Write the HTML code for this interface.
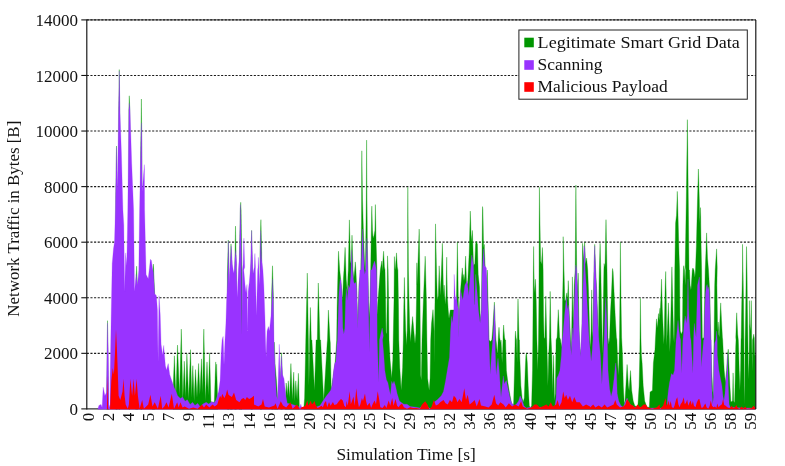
<!DOCTYPE html>
<html lang="en"><head><meta charset="utf-8"><title>Network Traffic</title>
<style>
html,body{margin:0;padding:0;background:#fff;}
body{width:785px;height:466px;overflow:hidden;}
svg{display:block;}
text{font-family:"Liberation Serif","DejaVu Serif",serif;fill:#111;}
</style></head><body>
<svg width="785" height="466" viewBox="0 0 785 466">
<rect width="785" height="466" fill="#fff"/>

<g stroke="#1a1a1a" stroke-width="1.15" stroke-dasharray="2.1 1.53" fill="none">
<line x1="86.8" y1="353.33" x2="755.8" y2="353.33"/>
<line x1="86.8" y1="297.76" x2="755.8" y2="297.76"/>
<line x1="86.8" y1="242.19" x2="755.8" y2="242.19"/>
<line x1="86.8" y1="186.61" x2="755.8" y2="186.61"/>
<line x1="86.8" y1="131.04" x2="755.8" y2="131.04"/>
<line x1="86.8" y1="75.47" x2="755.8" y2="75.47"/>
<line x1="86.8" y1="19.90" x2="755.8" y2="19.90"/>
</g>
<line x1="81.3" y1="408.8" x2="755.8" y2="408.8" stroke-width="1.3" stroke="#333"/>
<g shape-rendering="auto">
<polygon fill="#009600" stroke="#009600" stroke-width="0.35" stroke-linejoin="round" points="173.0,409.2 173.0,393.3 174.4,355.8 175.9,397.8 177.5,345.1 179.5,395.6 181.3,329.1 182.8,400.9 184.3,361.2 185.6,397.8 186.9,353.5 188.6,399.4 190.5,349.7 191.7,397.8 192.8,365.7 194.1,400.9 195.5,369.6 197.0,397.8 198.6,363.5 199.9,394.8 201.5,358.9 202.7,393.3 203.8,329.1 205.4,400.9 207.0,361.9 208.3,395.6 209.6,352.8 210.9,401.7 214.3,402.4 215.7,361.9 216.1,378.0 216.6,364.2 217.7,402.4 217.7,409.2"/>
<polygon fill="#009600" stroke="#009600" stroke-width="0.35" stroke-linejoin="round" points="106.8,409.2 106.8,395.8 107.5,320.7 108.3,395.8 108.3,409.2"/>
<polygon fill="#009600" stroke="#009600" stroke-width="0.35" stroke-linejoin="round" points="115.8,409.2 115.8,195.8 116.5,146.0 117.3,195.8 117.3,409.2"/>
<polygon fill="#009600" stroke="#009600" stroke-width="0.35" stroke-linejoin="round" points="118.8,409.2 118.8,110.0 119.3,69.6 119.7,110.0 119.7,409.2"/>
<polygon fill="#009600" stroke="#009600" stroke-width="0.35" stroke-linejoin="round" points="128.9,409.2 128.9,110.0 129.3,95.8 129.8,110.0 129.8,409.2"/>
<polygon fill="#009600" stroke="#009600" stroke-width="0.35" stroke-linejoin="round" points="140.7,409.2 140.7,152.9 141.4,99.0 142.0,174.4 142.0,409.2"/>
<polygon fill="#009600" stroke="#009600" stroke-width="0.35" stroke-linejoin="round" points="135.6,409.2 135.6,295.8 136.6,266.2 137.9,300.1 137.9,409.2"/>
<polygon fill="#009600" stroke="#009600" stroke-width="0.35" stroke-linejoin="round" points="152.3,409.2 152.3,274.4 153.4,264.1 154.7,295.8 154.7,409.2"/>
<polygon fill="#009600" stroke="#009600" stroke-width="0.35" stroke-linejoin="round" points="230.2,409.2 230.2,274.4 231.0,243.9 232.3,274.4 232.3,409.2"/>
<polygon fill="#009600" stroke="#009600" stroke-width="0.35" stroke-linejoin="round" points="234.7,409.2 234.7,274.4 235.5,226.1 236.4,274.4 236.4,409.2"/>
<polygon fill="#009600" stroke="#009600" stroke-width="0.35" stroke-linejoin="round" points="250.8,409.2 250.8,274.4 251.6,230.4 252.5,274.4 252.5,409.2"/>
<polygon fill="#009600" stroke="#009600" stroke-width="0.35" stroke-linejoin="round" points="239.2,409.2 239.2,278.7 240.3,210.0 240.7,202.3 241.1,210.0 242.0,278.7 242.0,409.2"/>
<polygon fill="#009600" stroke="#009600" stroke-width="0.35" stroke-linejoin="round" points="227.4,409.2 227.4,274.4 228.3,240.0 229.1,274.4 229.1,409.2"/>
<polygon fill="#009600" stroke="#009600" stroke-width="0.35" stroke-linejoin="round" points="260.0,409.2 260.0,252.9 260.9,219.7 261.7,252.9 261.7,409.2"/>
<polygon fill="#009600" stroke="#009600" stroke-width="0.35" stroke-linejoin="round" points="271.6,409.2 271.6,295.8 272.5,265.8 273.3,295.8 273.3,409.2"/>
<polygon fill="#009600" stroke="#009600" stroke-width="0.35" stroke-linejoin="round" points="274.4,409.2 274.4,342.2 275.0,363.6 276.3,378.7 277.6,398.0 278.0,404.4 278.0,409.2"/>
<polygon fill="#009600" stroke="#009600" stroke-width="0.35" stroke-linejoin="round" points="280.6,409.2 280.6,374.4 281.5,352.9 282.3,374.4 282.3,409.2"/>
<polygon fill="#009600" stroke="#009600" stroke-width="0.35" stroke-linejoin="round" points="285.3,409.2 285.3,402.3 286.2,383.0 287.3,395.8 288.3,380.8 289.6,398.0 290.9,363.6 292.3,400.1 293.7,372.2 294.8,401.2 295.8,380.8 297.1,400.1 298.4,373.3 299.3,404.4 299.3,409.2"/>
<polygon fill="#009600" stroke="#009600" stroke-width="0.35" stroke-linejoin="round" points="303.8,409.2 303.8,409.2 304.6,398.1 305.5,355.3 305.8,340.0 307.3,273.1 308.4,340.0 308.9,385.9 309.5,355.3 309.6,340.0 310.4,307.5 311.3,340.0 311.9,340.0 314.5,390.4 316.1,340.0 317.3,340.0 318.3,283.0 319.9,340.0 320.6,340.0 323.7,401.1 327.2,343.1 327.5,340.0 328.4,310.1 330.0,340.0 330.3,343.1 331.2,390.4 335.2,361.4 336.1,349.2 336.7,340.0 337.1,308.2 337.9,274.6 338.5,251.2 339.7,270.0 340.7,279.2 341.3,285.3 342.5,300.6 343.4,279.2 344.0,270.0 345.1,247.4 345.9,270.0 346.2,279.2 347.4,292.9 348.0,274.6 348.3,270.0 349.4,219.9 350.4,261.1 351.2,264.2 352.0,235.2 353.0,270.0 353.8,279.2 354.7,270.0 355.3,261.9 355.9,270.0 356.6,285.3 357.8,328.1 359.0,285.3 360.8,270.0 361.5,222.9 361.8,150.8 362.5,200.0 363.4,230.6 364.5,261.1 365.1,270.0 365.4,270.0 365.9,230.6 366.3,200.0 366.6,140.1 367.0,200.0 367.4,245.9 367.9,270.0 368.5,300.0 369.3,318.0 370.1,300.0 370.7,270.0 371.2,238.2 371.8,206.1 372.5,230.6 373.1,238.2 374.1,235.2 374.9,230.6 375.4,204.6 376.0,238.2 376.9,270.0 377.0,315.1 377.7,304.6 380.3,270.0 381.8,261.0 382.3,271.5 382.9,261.0 383.6,251.2 384.4,267.0 385.0,270.0 385.6,300.1 386.0,333.2 386.6,333.2 387.2,300.1 387.5,255.9 388.1,270.0 388.6,300.1 389.0,340.1 390.1,360.2 391.7,378.3 392.8,360.2 393.2,340.1 394.0,300.1 394.4,256.6 395.0,270.0 395.5,267.0 396.5,252.9 397.3,267.0 397.9,270.0 398.5,307.6 398.8,340.1 399.8,367.7 401.2,390.3 402.6,367.7 403.3,340.1 403.8,307.6 404.4,277.5 405.0,307.6 405.7,330.2 406.6,345.2 407.2,330.2 407.5,300.1 407.8,187.3 408.4,270.0 409.0,300.1 409.6,322.6 410.5,342.2 411.4,330.2 412.6,316.6 413.8,330.2 415.0,343.7 415.9,333.2 416.5,300.1 416.8,262.8 417.3,285.0 417.7,270.0 419.2,229.1 420.0,285.0 420.0,300.0 420.6,375.0 421.3,380.0 422.0,340.0 423.4,300.6 425.2,256.2 426.4,300.6 426.9,340.0 427.6,378.2 429.2,390.4 430.1,378.2 430.7,340.0 431.5,323.5 433.0,309.7 434.1,331.1 434.2,364.5 434.5,331.1 435.0,300.6 435.5,223.9 436.6,274.4 437.4,300.1 438.3,295.8 439.2,265.8 440.2,295.8 441.3,274.4 442.4,243.3 443.5,295.8 444.1,285.1 445.2,304.4 446.0,295.8 446.7,257.2 447.3,295.8 448.2,310.0 449.0,318.6 450.3,310.0 453.1,310.0 456.3,310.0 457.4,242.2 458.5,310.0 458.7,337.9 459.5,310.0 460.6,289.4 462.3,267.9 463.2,280.8 463.8,274.4 464.7,280.8 465.6,256.1 466.6,285.1 467.7,283.0 469.2,252.9 470.3,211.1 471.3,242.2 472.4,230.4 473.5,265.8 474.8,263.6 475.6,244.3 476.3,241.1 477.4,244.3 478.2,274.4 479.5,287.2 480.1,320.7 481.4,310.0 482.5,210.0 482.5,206.6 482.9,210.0 483.6,248.6 484.2,244.3 485.3,270.1 486.0,285.3 487.3,270.0 488.0,300.6 489.1,340.0 490.3,341.5 491.8,340.0 492.6,331.1 494.4,302.1 495.4,331.1 496.0,340.0 496.4,343.1 497.5,355.3 498.0,343.1 498.3,337.3 499.0,327.3 499.6,337.3 500.1,340.0 500.6,343.1 501.0,340.0 501.5,349.2 502.1,362.9 502.7,349.2 503.0,340.0 503.0,337.3 503.6,325.0 504.5,337.3 505.1,340.0 505.6,340.0 506.4,370.6 507.9,382.8 509.4,392.0 511.7,404.2 512.6,405.0 513.6,404.2 514.5,370.6 515.1,340.0 515.2,337.3 515.5,331.1 516.0,337.3 516.5,340.0 517.1,362.9 517.4,340.0 517.7,315.9 518.0,299.0 518.4,315.9 519.1,340.0 519.4,340.0 519.7,355.3 520.9,385.9 522.1,398.1 523.2,401.9 524.3,398.1 525.2,370.6 525.9,355.3 526.5,353.0 527.3,362.9 528.2,385.9 529.3,405.7 530.4,408.0 531.6,405.7 532.5,370.6 532.8,340.0 533.1,300.6 533.6,246.5 534.2,285.3 534.6,292.9 535.4,279.2 536.2,300.6 536.9,340.0 537.7,370.6 538.5,340.0 538.9,300.6 539.4,187.3 539.4,187.3 540.6,261.1 541.5,264.2 542.4,247.5 543.1,270.0 543.5,315.9 544.1,338.8 544.9,337.3 545.8,296.0 546.7,337.3 547.2,355.3 547.9,385.9 548.7,355.3 549.5,337.3 550.2,291.4 551.0,337.3 551.8,355.3 552.5,393.5 553.0,370.6 553.5,355.3 553.9,370.6 554.5,401.1 555.3,393.5 556.1,340.0 557.1,337.3 558.3,309.7 559.6,337.3 560.6,340.0 561.4,347.6 562.2,340.0 562.6,300.6 563.2,270.0 563.2,236.7 564.0,270.0 564.8,300.6 565.7,300.6 566.8,292.9 567.5,300.6 568.3,280.7 569.0,308.2 569.8,323.5 570.6,340.0 571.3,349.2 571.6,340.0 571.9,315.9 572.4,276.9 572.9,315.9 573.3,323.5 574.2,285.3 575.2,270.0 575.9,185.0 576.7,270.0 577.6,292.9 578.2,273.1 578.8,315.9 579.4,340.0 580.5,355.3 581.6,340.0 582.2,315.9 582.5,243.3 583.6,261.1 584.6,242.2 585.6,264.2 586.6,258.1 587.7,270.0 588.6,292.9 589.2,315.9 589.8,340.0 590.4,347.6 591.1,331.1 591.7,289.9 592.4,331.1 592.9,337.3 593.5,292.9 594.0,270.0 594.7,244.3 595.6,270.0 596.6,288.3 597.8,320.4 598.5,337.3 599.0,285.3 599.3,270.0 600.1,243.3 600.8,270.0 601.5,308.2 602.1,334.2 602.4,355.3 603.0,334.2 603.4,300.6 603.9,270.0 604.1,263.6 605.0,267.3 606.0,219.7 607.0,270.0 607.4,300.6 608.0,337.3 608.8,344.6 609.6,337.3 610.3,315.9 611.5,292.9 612.5,268.5 613.1,271.5 614.1,292.9 615.2,315.9 616.4,337.3 616.9,340.0 617.7,362.9 618.3,375.2 618.9,362.9 619.5,337.3 619.9,300.6 620.4,242.2 621.0,300.6 621.6,337.3 622.5,355.3 623.3,385.9 624.1,401.1 624.8,404.2 625.9,385.9 627.1,364.5 628.4,385.9 629.1,390.4 630.5,370.6 631.7,390.4 633.2,401.1 634.8,405.7 637.8,407.3 639.1,385.9 639.8,355.3 640.0,337.3 640.4,298.3 640.9,337.3 641.4,355.3 642.1,362.9 643.2,385.9 644.7,401.1 647.0,407.3 649.3,407.3 650.1,392.0 652.4,390.4 653.4,362.9 654.3,355.3 655.0,349.2 655.4,340.0 655.9,331.1 656.5,318.9 657.4,328.1 658.5,313.6 659.2,320.4 660.0,308.2 660.0,315.9 660.8,300.6 661.5,279.2 662.3,308.2 663.4,334.2 663.8,344.6 664.3,334.2 665.0,292.9 665.7,271.5 666.3,300.6 666.6,346.1 667.0,337.3 667.6,323.5 668.4,302.9 669.2,328.1 669.8,352.2 670.4,337.3 671.2,300.6 671.9,266.9 672.7,300.6 673.5,334.2 674.1,343.1 674.5,315.9 674.8,270.0 675.6,222.9 676.5,215.3 677.3,191.4 678.0,215.3 679.0,253.5 679.6,270.0 679.9,315.9 680.3,331.1 681.4,334.2 682.5,331.1 682.9,285.3 683.4,270.0 683.7,265.7 684.5,270.0 685.2,285.3 685.7,270.0 685.2,267.3 686.3,200.0 687.4,119.7 688.3,200.0 689.0,270.0 689.5,270.0 690.1,285.3 691.0,289.9 691.8,277.6 692.3,270.0 692.9,268.0 693.9,270.0 694.9,277.6 695.5,270.0 696.4,245.9 697.5,200.0 698.4,169.0 699.3,200.0 699.7,222.9 700.5,207.6 701.1,245.9 701.6,270.0 701.9,300.6 702.3,337.3 702.8,338.8 703.9,337.3 704.6,300.6 705.2,270.0 705.9,253.5 706.6,232.9 707.5,258.1 708.5,270.0 709.2,282.2 709.8,292.9 710.4,323.5 710.9,340.0 711.7,370.6 712.7,390.4 713.5,396.6 713.8,355.3 714.1,337.3 714.7,285.3 715.2,270.0 715.8,261.1 716.6,248.9 717.2,267.3 716.9,285.3 717.5,323.5 717.9,331.1 718.2,322.0 718.7,334.2 719.3,337.3 719.9,320.4 720.7,302.9 721.5,320.4 722.4,337.3 722.7,340.0 723.4,355.3 724.2,370.6 725.4,382.8 726.6,370.6 727.3,358.3 727.7,353.0 728.3,349.2 728.8,362.9 729.9,385.9 730.9,401.9 732.5,401.1 733.1,372.9 733.7,401.1 734.6,402.7 735.2,378.2 735.7,347.6 736.0,340.0 735.8,337.3 736.7,312.8 737.7,334.2 738.3,340.0 738.6,347.6 739.2,370.6 739.9,390.4 740.6,370.6 741.0,340.0 741.2,337.3 741.8,300.6 742.5,270.0 742.5,244.3 743.0,270.0 743.5,300.6 743.9,340.0 744.2,385.9 744.5,405.0 744.8,385.9 745.1,340.0 745.6,315.9 746.2,270.0 746.5,246.6 747.0,270.0 747.4,308.2 747.9,340.0 748.2,362.9 748.7,379.7 749.0,362.9 749.3,340.0 749.4,300.6 749.7,323.5 750.5,331.1 751.3,300.6 751.7,340.0 752.2,372.1 752.6,340.0 753.2,337.3 753.7,334.2 754.3,338.0 754.8,355.3 755.5,355.3 755.5,409.2"/>
<polygon fill="#9933ff" stroke="#9933ff" stroke-width="0.25" stroke-linejoin="round" points="97.8,409.2 97.8,409.2 98.9,405.5 101.0,404.4 102.1,407.6 103.2,387.2 104.9,395.8 106.4,392.6 107.5,322.9 108.3,352.9 109.0,407.6 110.0,404.4 110.2,374.4 111.3,310.0 112.2,263.6 113.5,248.6 114.5,242.2 115.4,210.0 116.5,147.5 117.5,191.5 118.6,110.0 119.3,71.1 119.9,110.0 121.4,152.9 122.9,210.0 123.8,225.0 124.6,291.5 125.7,252.9 126.8,265.8 127.8,210.0 128.9,110.0 129.3,103.3 130.0,110.0 131.7,163.6 133.6,210.0 134.5,291.5 136.2,274.4 137.5,285.1 138.8,270.1 139.6,210.0 141.1,131.5 141.6,122.9 142.2,191.5 144.4,164.7 144.6,210.0 146.1,274.4 148.2,278.7 150.4,259.3 151.4,260.4 152.5,269.0 153.4,272.2 154.7,293.7 156.4,295.8 157.4,310.0 158.1,361.5 159.0,295.8 160.2,314.3 161.1,344.3 162.6,355.1 163.7,345.4 165.4,365.8 166.5,370.1 168.2,363.6 169.7,374.4 171.8,380.8 174.0,387.2 176.1,391.5 177.6,395.8 180.4,398.4 182.6,396.9 185.1,401.2 187.3,399.7 190.1,404.4 192.6,402.3 195.0,405.5 197.6,403.3 200.4,407.0 202.9,404.0 206.2,402.3 208.7,404.0 211.5,401.8 214.3,402.7 216.0,400.1 217.3,395.8 218.6,391.5 220.1,380.8 221.2,352.9 222.1,340.0 223.1,336.5 224.0,364.8 225.0,340.0 225.9,323.5 226.6,300.6 227.4,285.3 227.9,270.0 228.5,241.3 228.9,267.3 229.2,283.8 229.8,270.0 230.5,261.1 231.2,245.9 232.3,264.2 233.2,270.0 233.8,273.1 234.4,270.0 235.0,258.1 235.8,250.4 236.6,264.2 236.3,270.0 237.3,297.5 238.4,270.0 239.3,258.1 240.4,204.6 241.5,261.1 241.3,270.0 241.8,335.7 242.4,270.0 243.1,264.2 243.9,238.2 244.7,267.3 243.8,270.0 245.1,285.3 246.1,292.9 247.0,284.5 247.6,331.1 248.2,291.4 249.3,282.2 250.3,270.0 250.8,261.1 251.6,230.6 252.5,261.1 252.8,274.6 253.7,270.0 254.3,267.3 254.9,253.5 255.5,267.3 255.4,270.0 256.4,315.9 257.7,270.0 258.0,267.3 258.4,257.3 258.9,267.3 258.9,270.0 259.5,285.3 260.1,270.0 260.6,230.6 261.5,258.1 262.6,267.3 262.9,270.0 263.8,285.3 264.9,315.9 265.5,340.0 266.1,357.1 266.7,340.0 267.1,331.1 268.4,326.6 269.4,331.1 271.0,315.9 272.0,300.6 272.6,279.2 273.3,300.6 274.0,340.0 274.4,352.9 275.5,378.7 276.5,395.8 277.6,400.1 279.3,344.3 280.2,380.8 281.5,356.1 282.5,374.4 284.0,378.7 285.8,395.8 287.3,403.3 292.6,404.4 300.0,407.3 300.8,404.2 301.8,408.0 306.1,407.3 315.3,407.3 319.9,405.7 322.9,401.1 326.0,396.6 330.6,390.4 332.1,385.9 333.6,370.6 334.9,362.9 335.9,361.4 336.7,347.6 337.5,340.0 338.2,315.9 339.0,292.9 340.1,279.2 341.0,280.7 341.9,292.9 342.8,328.1 343.9,334.2 344.8,328.1 345.6,300.6 346.3,288.3 347.1,300.6 347.7,294.5 348.6,285.3 349.7,288.3 350.8,276.1 351.7,250.4 352.4,267.3 352.9,276.1 353.8,282.2 354.7,283.8 355.8,282.2 356.6,288.3 357.8,328.1 359.0,288.3 359.9,270.0 361.1,270.0 361.9,245.9 362.7,229.0 363.4,250.4 364.2,270.0 364.8,274.6 365.7,270.0 366.5,250.4 367.0,238.2 367.6,261.1 368.0,270.0 368.4,300.0 369.3,352.0 370.2,300.0 370.6,270.0 371.8,270.0 373.4,264.2 374.6,261.1 375.7,265.7 376.4,270.0 376.9,285.3 377.2,340.0 378.7,382.8 379.5,340.0 380.7,334.2 382.2,328.1 383.3,335.7 382.5,340.0 383.8,355.3 384.8,370.6 386.4,379.7 387.9,382.8 389.4,390.4 390.5,395.0 391.7,381.3 392.9,384.3 394.0,381.3 395.5,385.9 397.1,393.5 399.4,401.1 401.7,402.7 403.9,404.2 407.0,404.2 410.1,406.5 416.2,407.3 420.0,408.0 422.0,405.5 428.4,407.6 431.7,409.2 433.8,402.3 437.0,400.1 441.3,395.8 443.5,391.5 445.6,380.8 447.7,367.9 449.5,357.2 450.5,331.5 451.6,316.4 452.5,322.9 453.8,310.0 454.2,274.4 455.3,300.1 456.3,295.8 457.4,304.4 458.5,310.0 458.7,337.9 459.5,310.0 460.6,289.4 461.7,295.8 462.8,300.1 464.9,285.1 467.1,280.8 468.8,295.8 470.3,274.4 471.8,255.1 473.5,265.8 474.4,304.4 474.8,304.4 475.6,274.4 477.4,295.8 478.4,310.0 480.1,322.9 481.4,310.0 482.1,274.4 483.6,248.6 484.7,265.8 486.4,267.9 487.4,295.8 488.3,315.9 488.8,340.0 489.6,358.3 490.3,374.4 491.5,355.3 492.6,343.1 493.4,331.1 494.4,305.2 495.4,331.1 495.2,349.2 496.1,375.2 496.9,367.5 498.0,358.3 499.2,370.6 499.8,379.7 501.0,397.3 502.2,385.9 503.3,375.9 504.4,384.3 505.3,382.0 506.4,380.5 507.4,385.9 508.7,392.0 510.2,398.9 511.7,402.7 514.0,405.7 516.3,404.2 518.6,401.1 520.1,395.8 521.2,398.1 522.4,401.1 523.9,405.7 526.2,408.0 530.1,407.3 533.1,408.0 540.0,407.3 549.2,408.0 554.5,408.8 556.1,398.1 556.8,378.2 558.3,375.2 559.9,370.6 561.4,355.3 562.2,340.0 562.9,335.7 564.5,315.9 566.3,297.5 567.5,309.7 568.4,305.2 569.4,320.4 570.1,340.0 571.3,355.3 571.8,340.0 572.4,328.1 573.0,340.0 573.3,331.1 574.4,300.6 575.5,270.0 575.9,265.0 576.7,270.0 577.9,300.6 579.0,331.1 579.7,340.0 580.5,356.8 581.3,340.0 582.0,323.5 583.1,285.3 583.7,270.0 584.0,245.9 584.8,248.9 585.2,270.0 586.2,285.3 587.4,308.2 588.6,331.1 589.2,340.0 590.1,349.2 591.2,361.4 592.3,349.2 592.9,340.0 593.5,300.6 594.0,270.0 594.7,245.9 595.6,270.0 596.6,292.9 597.8,323.5 598.9,340.0 600.4,355.3 601.9,384.3 603.4,355.3 604.2,340.0 605.0,315.9 605.7,297.5 606.5,315.9 607.3,340.0 608.0,370.6 609.6,388.9 611.1,396.6 612.6,390.4 614.1,378.2 615.7,362.9 616.4,370.6 617.2,393.5 618.7,401.1 621.0,405.7 623.3,407.3 625.6,401.1 627.1,398.1 628.7,402.7 631.7,405.7 634.8,407.3 647.0,408.0 660.0,408.0 660.0,408.0 666.1,408.8 666.9,409.2 667.6,398.1 668.4,390.4 669.5,382.8 671.5,373.6 673.0,375.2 674.5,370.6 675.3,355.3 676.1,340.0 676.5,337.3 677.3,328.1 678.0,320.4 679.0,331.1 679.9,337.3 680.6,340.0 681.7,373.6 682.9,340.0 683.2,337.3 684.2,323.5 685.2,315.9 686.3,323.5 687.2,315.9 688.0,279.2 688.6,308.2 689.4,323.5 690.3,337.3 690.9,340.0 692.9,373.6 693.6,340.0 693.9,331.1 694.4,323.5 695.2,331.1 696.1,337.3 696.7,315.9 697.5,285.3 698.5,280.7 699.4,276.9 700.1,300.6 700.7,337.3 701.0,340.0 701.3,367.5 703.6,340.0 704.0,340.0 704.6,315.9 705.6,292.9 706.3,286.8 707.1,284.5 708.0,289.9 708.9,286.8 709.7,300.6 710.3,323.5 710.8,340.0 711.2,340.0 711.7,385.9 712.7,404.2 713.5,397.3 714.0,355.3 714.7,343.1 715.8,340.0 716.6,331.1 717.2,340.0 717.3,355.3 718.9,370.6 720.4,378.2 721.9,385.9 723.0,396.6 723.9,401.1 725.0,393.5 726.0,378.2 727.0,370.6 727.6,353.8 728.3,385.9 729.1,404.2 730.3,407.3 742.5,408.0 755.5,408.0 755.5,409.2"/>
<polygon fill="#ff0000" points="106.9,409.2 106.9,408.8 107.5,375.0 108.1,408.8 110.0,409.2 111.3,380.8 112.8,367.9 113.9,374.4 115.0,352.9 116.0,329.3 116.9,348.6 117.5,363.6 118.6,395.8 120.3,400.1 121.4,395.8 122.5,391.5 123.5,378.7 124.6,395.8 125.7,404.4 127.8,408.7 128.9,404.4 130.4,378.7 132.1,395.8 133.6,378.7 134.9,395.8 136.6,378.7 137.9,395.8 139.6,408.7 142.2,400.1 143.9,408.7 148.2,404.4 150.4,394.8 152.5,406.6 154.7,402.3 157.9,408.7 160.7,395.8 162.2,408.7 164.3,406.6 166.5,402.3 168.6,407.6 171.8,393.7 174.0,408.7 177.2,402.3 178.7,407.6 180.4,402.3 182.6,407.6 184.7,406.6 189.0,408.7 193.3,407.6 197.6,408.7 201.9,404.4 204.0,407.6 206.2,404.4 209.4,407.6 212.6,404.4 214.7,406.6 217.3,404.4 218.6,400.1 220.1,395.8 221.2,398.0 222.2,393.7 224.4,398.0 225.9,394.8 227.2,389.4 228.5,394.8 229.8,395.8 231.9,396.9 234.0,392.6 236.2,400.1 239.4,402.3 241.6,399.0 243.7,398.0 245.2,400.1 246.9,396.9 249.1,399.0 251.2,398.0 254.0,395.8 254.0,404.4 258.3,406.6 261.5,404.4 263.0,399.0 264.7,406.6 269.0,407.6 274.4,405.5 275.5,403.3 277.6,408.7 280.8,401.2 283.0,405.5 286.2,407.6 290.5,402.3 292.6,408.7 296.9,404.4 300.0,409.2 301.5,407.3 303.8,406.5 305.4,405.7 307.3,400.4 308.4,405.7 309.5,403.4 310.7,400.4 311.9,404.2 313.0,403.4 314.5,401.1 315.7,405.0 317.6,408.0 319.1,407.3 321.4,405.7 322.9,407.3 324.5,402.7 326.0,401.1 327.2,407.3 329.0,401.9 330.6,405.7 332.9,401.9 334.4,405.0 336.7,404.2 339.0,401.1 341.0,398.9 342.8,400.4 344.3,405.7 345.9,407.3 346.6,401.1 347.7,405.7 349.7,391.2 350.8,404.2 352.0,401.1 353.5,396.6 354.7,405.7 356.3,388.2 357.3,398.1 358.9,407.3 360.4,404.2 361.9,398.1 363.0,401.1 365.0,393.5 366.0,401.1 367.3,405.7 369.6,402.7 371.1,408.0 372.6,404.2 374.6,400.4 376.0,404.2 377.7,391.2 379.2,399.6 380.3,407.3 382.5,408.0 384.8,405.0 386.4,408.0 388.7,400.4 390.2,405.7 392.2,398.1 393.6,405.7 395.5,398.9 397.1,405.7 398.6,407.3 400.1,405.0 402.0,403.4 403.9,407.3 407.0,408.8 410.1,407.3 413.1,408.0 416.2,408.0 420.0,408.8 422.0,404.4 425.2,401.2 427.4,404.4 429.5,409.2 431.7,406.6 433.8,400.1 435.9,405.5 438.1,404.4 440.2,402.3 443.5,400.1 445.6,403.3 447.7,404.4 449.9,400.1 452.0,402.3 453.8,395.8 455.9,398.0 457.4,402.3 459.5,399.0 461.7,402.3 464.3,388.3 466.0,400.1 467.7,394.8 469.6,404.4 472.4,402.3 474.6,400.1 476.7,406.6 479.5,399.0 481.0,405.5 485.3,406.6 488.5,407.6 491.7,404.4 494.3,394.8 496.0,403.3 498.2,405.5 500.3,402.3 503.5,404.4 505.7,407.6 508.9,403.3 512.1,406.6 515.3,404.4 518.6,406.6 521.1,401.2 522.8,406.6 527.1,408.7 531.4,407.6 534.6,404.4 536.8,404.4 540.0,407.6 544.3,405.5 546.4,404.4 548.6,406.6 550.7,402.3 552.9,406.6 556.1,404.4 557.6,400.1 559.3,406.6 561.5,402.3 563.2,391.5 564.7,398.0 566.2,394.8 567.9,400.1 570.0,395.8 572.2,402.3 574.3,396.9 576.5,402.3 579.7,402.3 582.9,406.6 586.1,404.4 590.0,406.6 590.0,407.6 593.2,404.4 595.4,407.6 598.6,405.5 601.8,407.6 604.6,404.4 607.2,407.6 611.5,405.5 613.6,404.4 615.3,400.1 616.8,404.4 620.0,407.6 623.3,406.6 625.4,404.4 626.9,399.0 628.6,401.2 630.8,404.4 632.9,405.5 635.1,407.6 637.6,404.4 640.4,407.6 643.6,404.4 645.8,404.4 647.9,407.6 652.2,408.7 656.5,407.6 659.7,404.4 660.0,409.2 661.5,407.3 663.1,405.7 664.6,401.1 665.8,398.1 666.4,405.7 667.6,404.2 668.7,400.4 669.6,405.7 670.7,401.1 671.9,407.3 673.5,408.0 674.5,405.7 676.1,399.6 677.3,397.3 678.3,404.2 679.6,407.3 680.6,404.2 682.2,401.9 683.7,397.3 684.8,404.2 686.0,402.7 687.2,399.6 688.3,405.7 689.4,402.7 690.6,400.4 691.8,405.0 692.9,401.1 693.9,405.7 695.5,407.3 696.7,402.7 698.2,399.6 699.4,398.9 700.5,404.2 701.6,408.0 703.1,407.3 704.3,405.0 705.4,403.4 706.6,407.3 708.2,408.8 709.7,405.7 710.8,400.4 712.0,405.7 713.5,407.3 715.0,406.5 716.3,408.0 717.3,403.4 718.4,407.3 719.9,405.7 721.9,404.2 723.1,398.9 724.2,405.0 725.7,405.7 727.3,407.3 729.1,408.0 730.6,407.3 731.8,405.7 733.1,408.0 734.9,407.3 736.4,405.0 737.7,408.0 739.5,408.8 741.8,406.5 743.3,408.5 745.3,406.5 746.8,408.8 749.4,408.5 751.7,408.0 753.6,405.7 754.8,407.3 755.5,408.0 755.5,409.2"/>
</g>
<g stroke="#111" fill="none">
<line x1="86.8" y1="19.6" x2="86.8" y2="409.4" stroke-width="1.15"/>
<line x1="86.8" y1="19.9" x2="755.8" y2="19.9" stroke-width="0.9" stroke="#222"/>
<line x1="755.8" y1="19.9" x2="755.8" y2="408.9" stroke-width="1.15" stroke="#111"/>
<line x1="81.3" y1="353.33" x2="86.8" y2="353.33" stroke-width="1.1"/>
<line x1="81.3" y1="297.76" x2="86.8" y2="297.76" stroke-width="1.1"/>
<line x1="81.3" y1="242.19" x2="86.8" y2="242.19" stroke-width="1.1"/>
<line x1="81.3" y1="186.61" x2="86.8" y2="186.61" stroke-width="1.1"/>
<line x1="81.3" y1="131.04" x2="86.8" y2="131.04" stroke-width="1.1"/>
<line x1="81.3" y1="75.47" x2="86.8" y2="75.47" stroke-width="1.1"/>
<line x1="81.3" y1="19.90" x2="86.8" y2="19.90" stroke-width="1.1"/>
</g>
<g font-size="17.0" text-anchor="end">
<text x="77.9" y="414.9">0</text>
<text x="77.9" y="359.3">2000</text>
<text x="77.9" y="303.8">4000</text>
<text x="77.9" y="248.2">6000</text>
<text x="77.9" y="192.6">8000</text>
<text x="77.9" y="137.0">10000</text>
<text x="77.9" y="81.5">12000</text>
<text x="77.9" y="25.9">14000</text>
</g>
<g font-size="17.0" text-anchor="end">
<text transform="translate(88.0,412.7) rotate(-90) scale(1,1.04)" x="0" y="5.75">0</text>
<text transform="translate(108.1,412.7) rotate(-90) scale(1,1.04)" x="0" y="5.75">2</text>
<text transform="translate(128.2,412.7) rotate(-90) scale(1,1.04)" x="0" y="5.75">4</text>
<text transform="translate(148.3,412.7) rotate(-90) scale(1,1.04)" x="0" y="5.75">5</text>
<text transform="translate(168.3,412.7) rotate(-90) scale(1,1.04)" x="0" y="5.75">7</text>
<text transform="translate(188.4,412.7) rotate(-90) scale(1,1.04)" x="0" y="5.75">9</text>
<text transform="translate(208.5,412.7) rotate(-90) scale(1,1.04)" x="0" y="5.75">11</text>
<text transform="translate(228.5,412.7) rotate(-90) scale(1,1.04)" x="0" y="5.75">13</text>
<text transform="translate(248.6,412.7) rotate(-90) scale(1,1.04)" x="0" y="5.75">14</text>
<text transform="translate(268.7,412.7) rotate(-90) scale(1,1.04)" x="0" y="5.75">16</text>
<text transform="translate(288.8,412.7) rotate(-90) scale(1,1.04)" x="0" y="5.75">18</text>
<text transform="translate(308.8,412.7) rotate(-90) scale(1,1.04)" x="0" y="5.75">20</text>
<text transform="translate(328.9,412.7) rotate(-90) scale(1,1.04)" x="0" y="5.75">22</text>
<text transform="translate(349.0,412.7) rotate(-90) scale(1,1.04)" x="0" y="5.75">23</text>
<text transform="translate(369.0,412.7) rotate(-90) scale(1,1.04)" x="0" y="5.75">25</text>
<text transform="translate(389.1,412.7) rotate(-90) scale(1,1.04)" x="0" y="5.75">27</text>
<text transform="translate(409.2,412.7) rotate(-90) scale(1,1.04)" x="0" y="5.75">29</text>
<text transform="translate(429.2,412.7) rotate(-90) scale(1,1.04)" x="0" y="5.75">31</text>
<text transform="translate(449.3,412.7) rotate(-90) scale(1,1.04)" x="0" y="5.75">32</text>
<text transform="translate(469.4,412.7) rotate(-90) scale(1,1.04)" x="0" y="5.75">34</text>
<text transform="translate(489.4,412.7) rotate(-90) scale(1,1.04)" x="0" y="5.75">36</text>
<text transform="translate(509.5,412.7) rotate(-90) scale(1,1.04)" x="0" y="5.75">38</text>
<text transform="translate(529.6,412.7) rotate(-90) scale(1,1.04)" x="0" y="5.75">40</text>
<text transform="translate(549.7,412.7) rotate(-90) scale(1,1.04)" x="0" y="5.75">41</text>
<text transform="translate(569.7,412.7) rotate(-90) scale(1,1.04)" x="0" y="5.75">43</text>
<text transform="translate(589.8,412.7) rotate(-90) scale(1,1.04)" x="0" y="5.75">45</text>
<text transform="translate(609.9,412.7) rotate(-90) scale(1,1.04)" x="0" y="5.75">47</text>
<text transform="translate(629.9,412.7) rotate(-90) scale(1,1.04)" x="0" y="5.75">49</text>
<text transform="translate(650.0,412.7) rotate(-90) scale(1,1.04)" x="0" y="5.75">50</text>
<text transform="translate(670.1,412.7) rotate(-90) scale(1,1.04)" x="0" y="5.75">52</text>
<text transform="translate(690.1,412.7) rotate(-90) scale(1,1.04)" x="0" y="5.75">54</text>
<text transform="translate(710.2,412.7) rotate(-90) scale(1,1.04)" x="0" y="5.75">56</text>
<text transform="translate(730.3,412.7) rotate(-90) scale(1,1.04)" x="0" y="5.75">58</text>
<text transform="translate(750.4,412.7) rotate(-90) scale(1,1.04)" x="0" y="5.75">59</text>
</g>
<text transform="translate(406.1,459.6) scale(1.089,1)" font-size="16" text-anchor="middle">Simulation Time [s]</text>
<text transform="translate(19.4,218.7) rotate(-90) scale(1.057,1)" font-size="16" text-anchor="middle">Network Traffic in Bytes [B]</text>
<rect x="518.9" y="30" width="228.4" height="69.2" fill="#fff" stroke="#222" stroke-width="1"/>
<rect x="524.3" y="37.7" width="9.5" height="9.6" fill="#009600"/>
<rect x="524.3" y="60.2" width="9.5" height="9.6" fill="#9933ff"/>
<rect x="524.3" y="82.2" width="9.5" height="9.6" fill="#ff0000"/>
<g font-size="16">
<text transform="translate(537.6,47.8) scale(1.13,1)">Legitimate Smart Grid Data</text>
<text transform="translate(537.6,69.7) scale(1.09,1)">Scanning</text>
<text transform="translate(537.6,91.6) scale(1.09,1)">Malicious Payload</text>
</g>
</svg></body></html>
